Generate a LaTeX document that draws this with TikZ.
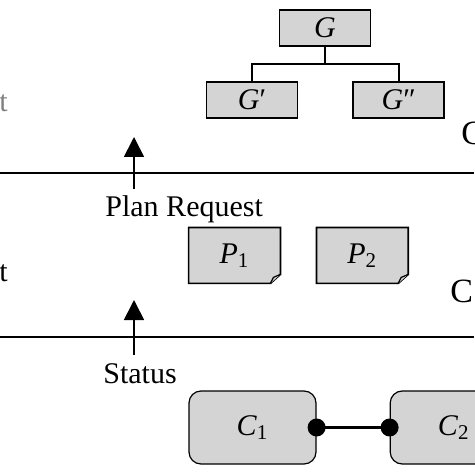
\documentclass[tikz,border=0pt]{standalone}
\usepackage{fontspec}
\setmainfont{Liberation Serif}
\usetikzlibrary{positioning,calc,arrows.meta,backgrounds}

\definecolor{boxgray}{RGB}{212,212,212}

\tikzset{
  gbox/.style={draw, rectangle, fill=boxgray, line width=0.85pt, minimum width=45.5pt, minimum height=18pt, inner sep=0pt, font=\fontsize{15}{17}\selectfont},
  planbox/.style={rectangle, minimum width=45.5pt, minimum height=27.5pt, inner sep=0pt, font=\fontsize{15}{17}\selectfont},
  cbox/.style={draw, rectangle, rounded corners=6pt, fill=boxgray, line width=0.6pt, minimum width=63.5pt, minimum height=36.5pt, inner sep=0pt, font=\fontsize{15}{17}\selectfont},
  label/.style={inner sep=0pt, font=\fontsize{15}{18}\selectfont},
  edge label/.style={inner sep=0pt, font=\fontsize{17}{20}\selectfont},
  tier/.style={line width=0.65pt},
  flow/.style={line width=0.85pt, -{Triangle[width=10pt,length=10pt]}},
  joint/.style={circle, fill=black, inner sep=0pt, minimum size=9pt}
}

\begin{document}
\begin{tikzpicture}[x=0.5pt, y=-0.5pt]
  \useasboundingbox (0,0) rectangle (474,474);

  % Goals
  \node [gbox] (g) at (325,28) {\textit{G}};
  \node [gbox] (gp) at (252,100) {\textit{G}′};
  \node [gbox, right=27pt of gp] (gpp) {\textit{G}″};
  \coordinate (fork) at (325,64);
  \draw [line width=0.85pt] (g.south) -- (fork);
  \draw [line width=0.85pt] (gp.north) |- (fork) -| (gpp.north);

  % Plans
  \node [planbox] (p1) at (234.5,255.5) {\textit{P}\textsubscript{1}};
  \node [planbox, right=18pt of p1] (p2) {\textit{P}\textsubscript{2}};
  \begin{scope}[on background layer]
    \foreach \p in {p1, p2} {
      \draw [fill=boxgray, line width=0.85pt] (\p.north west) -- (\p.north east)
        -- ($(\p.south east)+(0,-9)$) -- ($(\p.south east)+(-10,0)$) -- (\p.south west) -- cycle;
      \draw [fill=boxgray, line width=0.6pt] ($(\p.south east)+(-10,0)$) -- ($(\p.south east)+(-7,-6)$)
        -- ($(\p.south east)+(0,-9)$);
    }
  \end{scope}

  % Components
  \node [cbox] (c1) at (252.5,427.5) {\textit{C}\textsubscript{1}};
  \node [cbox, right=36.5pt of c1] (c2) {\textit{C}\textsubscript{2}};
  \draw [line width=1.6pt] (c1.east) -- (c2.west);
  \node [joint] (j1) at (c1.east) {};
  \node [joint] (j2) at (c2.west) {};

  % Layers
  \coordinate (top left) at (0,173);
  \coordinate (top right) at (474,173);
  \coordinate (low left) at (0,337);
  \coordinate (low right) at (474,337);
  \draw [tier] (top left) -- (top right);
  \draw [tier] (low left) -- (low right);

  % Messages
  \coordinate (req foot) at (134,189);
  \coordinate (req tip) at (134,137);
  \coordinate (stat foot) at (134,355);
  \coordinate (stat tip) at (134,300);
  \draw [flow] (req foot) -- (req tip);
  \draw [flow] (stat foot) -- (stat tip);
  \node [label, anchor=base west] (req) at (105,217) {Plan Request};
  \node [label, anchor=base west] (stat) at (103,383) {Status};

  % Cut-off layer names
  \node [label, anchor=base east, text=gray] (lt1) at (8,112) {t};
  \node [label, anchor=base east] (lt2) at (8,282) {t};
  \node [edge label, anchor=base west] (rc1) at (461,145) {C};
  \node [edge label, anchor=base west] (rc2) at (450,303) {C};
\end{tikzpicture}
\end{document}
